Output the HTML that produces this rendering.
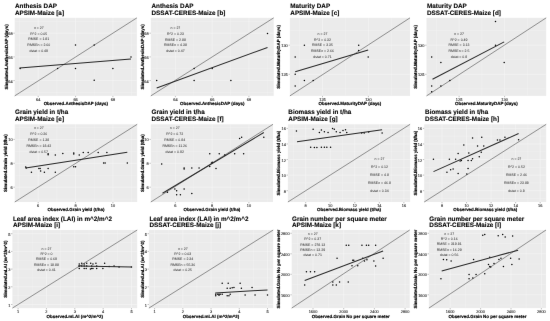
<!DOCTYPE html>
<html><head><meta charset="utf-8"><style>
html,body{margin:0;padding:0;background:#fff;}
svg{display:block;}
text{font-family:'Liberation Sans', Arial, sans-serif;text-rendering:geometricPrecision;}
.ti{font-size:6.35px;font-weight:bold;fill:#000;stroke:#000;stroke-width:0.1;}
.at{font-size:4.47px;font-weight:bold;fill:#000;stroke:#000;stroke-width:0.16;}
.tl{font-size:3.9px;fill:#333;stroke:#333;stroke-width:0.12;}
.st{font-size:3.5px;fill:#1a1a1a;}
.ma{stroke:#fff;stroke-width:0.32;}
.mi{stroke:#fff;stroke-width:0.18;}
.tk{stroke:#444;stroke-width:0.35;}
.dg{stroke:#505050;stroke-width:0.62;}
.rg{stroke:#262626;stroke-width:1.02;}
circle{fill:#000;}
</style></head><body>
<svg id="root" width="550" height="321" viewBox="0 0 550 321">
<defs><filter id="bl" x="0" y="0" width="550" height="321" filterUnits="userSpaceOnUse" color-interpolation-filters="sRGB"><feConvolveMatrix order="3" kernelMatrix="0.0019 0.0439 0.0019 0.0439 1 0.0439 0.0019 0.0439 0.0019" edgeMode="duplicate"/></filter></defs>
<rect width="550" height="321" fill="#fff"/>
<g filter="url(#bl)">
<rect width="550" height="321" fill="#fff"/>
<rect x="14.7" y="17.85" width="122.2" height="78.05" fill="#EBEBEB"/>
<line x1="19.53" y1="17.85" x2="19.53" y2="95.9" class="mi"/>
<line x1="56.88" y1="17.85" x2="56.88" y2="95.9" class="mi"/>
<line x1="94.23" y1="17.85" x2="94.23" y2="95.9" class="mi"/>
<line x1="131.57" y1="17.85" x2="131.57" y2="95.9" class="mi"/>
<line x1="14.7" y1="92.45" x2="136.9" y2="92.45" class="mi"/>
<line x1="14.7" y1="68.75" x2="136.9" y2="68.75" class="mi"/>
<line x1="14.7" y1="45.05" x2="136.9" y2="45.05" class="mi"/>
<line x1="14.7" y1="21.35" x2="136.9" y2="21.35" class="mi"/>
<line x1="38.2" y1="17.85" x2="38.2" y2="95.9" class="ma"/>
<line x1="38.2" y1="95.9" x2="38.2" y2="97.2" class="tk"/>
<text x="38.2" y="100.6" class="tl" text-anchor="middle">64</text>
<line x1="75.55" y1="17.85" x2="75.55" y2="95.9" class="ma"/>
<line x1="75.55" y1="95.9" x2="75.55" y2="97.2" class="tk"/>
<text x="75.55" y="100.6" class="tl" text-anchor="middle">66</text>
<line x1="112.9" y1="17.85" x2="112.9" y2="95.9" class="ma"/>
<line x1="112.9" y1="95.9" x2="112.9" y2="97.2" class="tk"/>
<text x="112.9" y="100.6" class="tl" text-anchor="middle">68</text>
<line x1="14.7" y1="80.6" x2="136.9" y2="80.6" class="ma"/>
<line x1="13.4" y1="80.6" x2="14.7" y2="80.6" class="tk"/>
<text x="12.6" y="82.6" class="tl" text-anchor="end">64</text>
<line x1="14.7" y1="56.9" x2="136.9" y2="56.9" class="ma"/>
<line x1="13.4" y1="56.9" x2="14.7" y2="56.9" class="tk"/>
<text x="12.6" y="58.9" class="tl" text-anchor="end">66</text>
<line x1="14.7" y1="33.2" x2="136.9" y2="33.2" class="ma"/>
<line x1="13.4" y1="33.2" x2="14.7" y2="33.2" class="tk"/>
<text x="12.6" y="35.2" class="tl" text-anchor="end">68</text>
<line x1="14.7" y1="95.9" x2="136.9" y2="17.85" class="dg"/>
<circle cx="20.2" cy="68.6" r="0.75"/>
<circle cx="57.6" cy="68.6" r="0.75"/>
<circle cx="75.5" cy="44.9" r="0.75"/>
<circle cx="75.5" cy="68.6" r="0.75"/>
<circle cx="94.2" cy="44.9" r="0.75"/>
<circle cx="94.2" cy="80.3" r="0.75"/>
<circle cx="112.9" cy="68.6" r="0.75"/>
<circle cx="131" cy="56.9" r="0.75"/>
<line x1="19.5" y1="68.1" x2="131" y2="58.9" class="rg"/>
<text x="38.8" y="28.75" class="st" text-anchor="middle">n = 27</text>
<text x="38.8" y="34.62" class="st" text-anchor="middle">R^2 = 0.05</text>
<text x="38.8" y="40.49" class="st" text-anchor="middle">RMSE = 1.81</text>
<text x="38.8" y="46.36" class="st" text-anchor="middle">RMSEn = 2.60</text>
<text x="38.8" y="52.23" class="st" text-anchor="middle">dstat = 0.49</text>
<text x="15" y="8.15" class="ti">Anthesis DAP</text>
<text x="15" y="14.9" class="ti">APSIM-Maize [a]</text>
<text x="75.8" y="105.2" class="at" text-anchor="middle">Observed.AnthesisDAP (days)</text>
<text transform="translate(7.5,56.88) rotate(-90)" class="at" text-anchor="middle">Simulated.AnthesisDAP (days)</text>
<rect x="150.8" y="17.85" width="122.9" height="78.05" fill="#EBEBEB"/>
<line x1="157.03" y1="17.85" x2="157.03" y2="95.9" class="mi"/>
<line x1="193.78" y1="17.85" x2="193.78" y2="95.9" class="mi"/>
<line x1="230.53" y1="17.85" x2="230.53" y2="95.9" class="mi"/>
<line x1="267.27" y1="17.85" x2="267.27" y2="95.9" class="mi"/>
<line x1="150.8" y1="92.45" x2="273.7" y2="92.45" class="mi"/>
<line x1="150.8" y1="68.75" x2="273.7" y2="68.75" class="mi"/>
<line x1="150.8" y1="45.05" x2="273.7" y2="45.05" class="mi"/>
<line x1="150.8" y1="21.35" x2="273.7" y2="21.35" class="mi"/>
<line x1="175.4" y1="17.85" x2="175.4" y2="95.9" class="ma"/>
<line x1="175.4" y1="95.9" x2="175.4" y2="97.2" class="tk"/>
<text x="175.4" y="100.6" class="tl" text-anchor="middle">64</text>
<line x1="212.15" y1="17.85" x2="212.15" y2="95.9" class="ma"/>
<line x1="212.15" y1="95.9" x2="212.15" y2="97.2" class="tk"/>
<text x="212.15" y="100.6" class="tl" text-anchor="middle">66</text>
<line x1="248.9" y1="17.85" x2="248.9" y2="95.9" class="ma"/>
<line x1="248.9" y1="95.9" x2="248.9" y2="97.2" class="tk"/>
<text x="248.9" y="100.6" class="tl" text-anchor="middle">68</text>
<line x1="150.8" y1="80.6" x2="273.7" y2="80.6" class="ma"/>
<line x1="149.5" y1="80.6" x2="150.8" y2="80.6" class="tk"/>
<text x="148.7" y="82.6" class="tl" text-anchor="end">64</text>
<line x1="150.8" y1="56.9" x2="273.7" y2="56.9" class="ma"/>
<line x1="149.5" y1="56.9" x2="150.8" y2="56.9" class="tk"/>
<text x="148.7" y="58.9" class="tl" text-anchor="end">66</text>
<line x1="150.8" y1="33.2" x2="273.7" y2="33.2" class="ma"/>
<line x1="149.5" y1="33.2" x2="150.8" y2="33.2" class="tk"/>
<text x="148.7" y="35.2" class="tl" text-anchor="end">68</text>
<line x1="150.8" y1="95.9" x2="273.7" y2="17.85" class="dg"/>
<circle cx="156.7" cy="80.6" r="0.75"/>
<circle cx="194.1" cy="68.6" r="0.75"/>
<circle cx="194.1" cy="80.6" r="0.75"/>
<circle cx="212.2" cy="68.6" r="0.75"/>
<circle cx="230.9" cy="80.6" r="0.75"/>
<circle cx="267.5" cy="33.4" r="0.75"/>
<line x1="156.7" y1="88" x2="267.5" y2="47.4" class="rg"/>
<text x="175.4" y="28.65" class="st" text-anchor="middle">n = 27</text>
<text x="175.4" y="34.58" class="st" text-anchor="middle">R^2 = 0.23</text>
<text x="175.4" y="40.51" class="st" text-anchor="middle">RMSE = 2.88</text>
<text x="175.4" y="46.44" class="st" text-anchor="middle">RMSEn = 4.38</text>
<text x="175.4" y="52.37" class="st" text-anchor="middle">dstat = 0.47</text>
<text x="151.5" y="8.15" class="ti">Anthesis DAP</text>
<text x="151.5" y="14.9" class="ti">DSSAT-CERES-Maize [b]</text>
<text x="212.25" y="105.2" class="at" text-anchor="middle">Observed.AnthesisDAP (days)</text>
<text transform="translate(143.7,56.88) rotate(-90)" class="at" text-anchor="middle">Simulated.AnthesisDAP (days)</text>
<rect x="289.9" y="17.85" width="120.1" height="78.05" fill="#EBEBEB"/>
<line x1="299.55" y1="17.85" x2="299.55" y2="95.9" class="mi"/>
<line x1="345.45" y1="17.85" x2="345.45" y2="95.9" class="mi"/>
<line x1="391.35" y1="17.85" x2="391.35" y2="95.9" class="mi"/>
<line x1="289.9" y1="88.85" x2="410" y2="88.85" class="mi"/>
<line x1="289.9" y1="59.75" x2="410" y2="59.75" class="mi"/>
<line x1="289.9" y1="30.65" x2="410" y2="30.65" class="mi"/>
<line x1="322.5" y1="17.85" x2="322.5" y2="95.9" class="ma"/>
<line x1="322.5" y1="95.9" x2="322.5" y2="97.2" class="tk"/>
<text x="322.5" y="100.6" class="tl" text-anchor="middle">125</text>
<line x1="368.4" y1="17.85" x2="368.4" y2="95.9" class="ma"/>
<line x1="368.4" y1="95.9" x2="368.4" y2="97.2" class="tk"/>
<text x="368.4" y="100.6" class="tl" text-anchor="middle">130</text>
<line x1="289.9" y1="74.3" x2="410" y2="74.3" class="ma"/>
<line x1="288.6" y1="74.3" x2="289.9" y2="74.3" class="tk"/>
<text x="287.8" y="76.3" class="tl" text-anchor="end">125</text>
<line x1="289.9" y1="45.2" x2="410" y2="45.2" class="ma"/>
<line x1="288.6" y1="45.2" x2="289.9" y2="45.2" class="tk"/>
<text x="287.8" y="47.2" class="tl" text-anchor="end">130</text>
<line x1="289.9" y1="95.9" x2="410" y2="17.85" class="dg"/>
<circle cx="295.2" cy="56.9" r="0.75"/>
<circle cx="304.4" cy="45.2" r="0.75"/>
<circle cx="295.2" cy="74.3" r="0.75"/>
<circle cx="304.4" cy="80.6" r="0.75"/>
<circle cx="313.2" cy="80.6" r="0.75"/>
<circle cx="295.2" cy="86" r="0.75"/>
<circle cx="358.7" cy="45.2" r="0.75"/>
<circle cx="358.7" cy="50.6" r="0.75"/>
<circle cx="368.2" cy="56.9" r="0.75"/>
<line x1="295.2" y1="71.8" x2="368.2" y2="50.1" class="rg"/>
<text x="322.5" y="34.75" class="st" text-anchor="middle">n = 27</text>
<text x="322.5" y="40.57" class="st" text-anchor="middle">R^2 = 0.32</text>
<text x="322.5" y="46.39" class="st" text-anchor="middle">RMSE = 3.35</text>
<text x="322.5" y="52.21" class="st" text-anchor="middle">RMSEn = 2.66</text>
<text x="322.5" y="58.03" class="st" text-anchor="middle">dstat = 0.71</text>
<text x="290.3" y="8.15" class="ti">Maturity DAP</text>
<text x="290.3" y="14.9" class="ti">APSIM-Maize [c]</text>
<text x="349.95" y="105.2" class="at" text-anchor="middle">Observed.MaturityDAP (days)</text>
<text transform="translate(280.3,56.88) rotate(-90)" class="at" text-anchor="middle">Simulated.MaturityDAP (days)</text>
<rect x="426.5" y="17.85" width="119.7" height="78.05" fill="#EBEBEB"/>
<line x1="436.35" y1="17.85" x2="436.35" y2="95.9" class="mi"/>
<line x1="481.85" y1="17.85" x2="481.85" y2="95.9" class="mi"/>
<line x1="527.35" y1="17.85" x2="527.35" y2="95.9" class="mi"/>
<line x1="426.5" y1="88.85" x2="546.2" y2="88.85" class="mi"/>
<line x1="426.5" y1="59.75" x2="546.2" y2="59.75" class="mi"/>
<line x1="426.5" y1="30.65" x2="546.2" y2="30.65" class="mi"/>
<line x1="459.1" y1="17.85" x2="459.1" y2="95.9" class="ma"/>
<line x1="459.1" y1="95.9" x2="459.1" y2="97.2" class="tk"/>
<text x="459.1" y="100.6" class="tl" text-anchor="middle">125</text>
<line x1="504.6" y1="17.85" x2="504.6" y2="95.9" class="ma"/>
<line x1="504.6" y1="95.9" x2="504.6" y2="97.2" class="tk"/>
<text x="504.6" y="100.6" class="tl" text-anchor="middle">130</text>
<line x1="426.5" y1="74.3" x2="546.2" y2="74.3" class="ma"/>
<line x1="425.2" y1="74.3" x2="426.5" y2="74.3" class="tk"/>
<text x="424.4" y="76.3" class="tl" text-anchor="end">125</text>
<line x1="426.5" y1="45.2" x2="546.2" y2="45.2" class="ma"/>
<line x1="425.2" y1="45.2" x2="426.5" y2="45.2" class="tk"/>
<text x="424.4" y="47.2" class="tl" text-anchor="end">130</text>
<line x1="426.5" y1="95.9" x2="546.2" y2="17.85" class="dg"/>
<circle cx="495.5" cy="21.5" r="0.75"/>
<circle cx="495.5" cy="45.2" r="0.75"/>
<circle cx="431.7" cy="56.9" r="0.75"/>
<circle cx="440.9" cy="62.6" r="0.75"/>
<circle cx="504.2" cy="62.6" r="0.75"/>
<circle cx="431.7" cy="86" r="0.75"/>
<circle cx="440.9" cy="86" r="0.75"/>
<circle cx="449.9" cy="80.6" r="0.75"/>
<circle cx="431.7" cy="91.8" r="0.75"/>
<line x1="432.5" y1="79.3" x2="504.2" y2="41.9" class="rg"/>
<text x="459" y="34.75" class="st" text-anchor="middle">n = 27</text>
<text x="459" y="40.57" class="st" text-anchor="middle">R^2 = 0.49</text>
<text x="459" y="46.39" class="st" text-anchor="middle">RMSE = 3.13</text>
<text x="459" y="52.21" class="st" text-anchor="middle">RMSEn = 2.5</text>
<text x="459" y="58.03" class="st" text-anchor="middle">dstat = 0.8</text>
<text x="427" y="8.15" class="ti">Maturity DAP</text>
<text x="427" y="14.9" class="ti">DSSAT-CERES-Maize [d]</text>
<text x="486.35" y="105.2" class="at" text-anchor="middle">Observed.MaturityDAP (days)</text>
<text transform="translate(417.4,56.88) rotate(-90)" class="at" text-anchor="middle">Simulated.MaturityDAP (days)</text>
<rect x="14.75" y="124.3" width="122.45" height="77.7" fill="#EBEBEB"/>
<line x1="19.53" y1="124.3" x2="19.53" y2="202" class="mi"/>
<line x1="56.88" y1="124.3" x2="56.88" y2="202" class="mi"/>
<line x1="94.23" y1="124.3" x2="94.23" y2="202" class="mi"/>
<line x1="131.57" y1="124.3" x2="131.57" y2="202" class="mi"/>
<line x1="14.75" y1="199.15" x2="137.2" y2="199.15" class="mi"/>
<line x1="14.75" y1="175.25" x2="137.2" y2="175.25" class="mi"/>
<line x1="14.75" y1="151.35" x2="137.2" y2="151.35" class="mi"/>
<line x1="14.75" y1="127.45" x2="137.2" y2="127.45" class="mi"/>
<line x1="38.2" y1="124.3" x2="38.2" y2="202" class="ma"/>
<line x1="38.2" y1="202" x2="38.2" y2="203.3" class="tk"/>
<text x="38.2" y="206.7" class="tl" text-anchor="middle">6</text>
<line x1="75.55" y1="124.3" x2="75.55" y2="202" class="ma"/>
<line x1="75.55" y1="202" x2="75.55" y2="203.3" class="tk"/>
<text x="75.55" y="206.7" class="tl" text-anchor="middle">8</text>
<line x1="112.9" y1="124.3" x2="112.9" y2="202" class="ma"/>
<line x1="112.9" y1="202" x2="112.9" y2="203.3" class="tk"/>
<text x="112.9" y="206.7" class="tl" text-anchor="middle">10</text>
<line x1="14.75" y1="187.2" x2="137.2" y2="187.2" class="ma"/>
<line x1="13.45" y1="187.2" x2="14.75" y2="187.2" class="tk"/>
<text x="12.65" y="189.2" class="tl" text-anchor="end">6</text>
<line x1="14.75" y1="163.3" x2="137.2" y2="163.3" class="ma"/>
<line x1="13.45" y1="163.3" x2="14.75" y2="163.3" class="tk"/>
<text x="12.65" y="165.3" class="tl" text-anchor="end">8</text>
<line x1="14.75" y1="139.4" x2="137.2" y2="139.4" class="ma"/>
<line x1="13.45" y1="139.4" x2="14.75" y2="139.4" class="tk"/>
<text x="12.65" y="141.4" class="tl" text-anchor="end">10</text>
<line x1="14.75" y1="202" x2="137.2" y2="124.3" class="dg"/>
<circle cx="25.7" cy="167.11" r="0.75"/>
<circle cx="26.2" cy="168.11" r="0.75"/>
<circle cx="31.43" cy="172.35" r="0.75"/>
<circle cx="38.9" cy="168.61" r="0.75"/>
<circle cx="40.15" cy="168.61" r="0.75"/>
<circle cx="40.64" cy="171.1" r="0.75"/>
<circle cx="44.38" cy="172.35" r="0.75"/>
<circle cx="48.11" cy="168.61" r="0.75"/>
<circle cx="48.11" cy="153.65" r="0.75"/>
<circle cx="48.11" cy="154.65" r="0.75"/>
<circle cx="55.33" cy="154.9" r="0.75"/>
<circle cx="55.33" cy="172.35" r="0.75"/>
<circle cx="62.8" cy="153.4" r="0.75"/>
<circle cx="73.76" cy="152.91" r="0.75"/>
<circle cx="73.76" cy="153.9" r="0.75"/>
<circle cx="73.76" cy="166.86" r="0.75"/>
<circle cx="75.5" cy="166.86" r="0.75"/>
<circle cx="79.24" cy="154.9" r="0.75"/>
<circle cx="83.22" cy="152.41" r="0.75"/>
<circle cx="88.2" cy="152.41" r="0.75"/>
<circle cx="98.16" cy="152.41" r="0.75"/>
<circle cx="103.64" cy="162.88" r="0.75"/>
<circle cx="105.14" cy="162.88" r="0.75"/>
<circle cx="106.88" cy="152.41" r="0.75"/>
<circle cx="127.3" cy="162.88" r="0.75"/>
<line x1="25.7" y1="167.9" x2="127.3" y2="152.2" class="rg"/>
<text x="38.8" y="128.75" class="st" text-anchor="middle">n = 27</text>
<text x="38.8" y="134.72" class="st" text-anchor="middle">R^2 = 0.26</text>
<text x="38.8" y="140.69" class="st" text-anchor="middle">RMSE = 1.38</text>
<text x="38.8" y="146.66" class="st" text-anchor="middle">RMSEn = 18.42</text>
<text x="38.8" y="152.63" class="st" text-anchor="middle">dstat = 0.57</text>
<text x="15" y="114.1" class="ti">Grain yield in t/ha</text>
<text x="15" y="120.9" class="ti">APSIM-Maize [e]</text>
<text x="75.97" y="211.4" class="at" text-anchor="middle">Observed.Grain yield (t/ha)</text>
<text transform="translate(7.1,163.15) rotate(-90)" class="at" text-anchor="middle">Simulated.Grain yield (t/ha)</text>
<rect x="150.8" y="124.3" width="122.2" height="77.7" fill="#EBEBEB"/>
<line x1="157.03" y1="124.3" x2="157.03" y2="202" class="mi"/>
<line x1="193.78" y1="124.3" x2="193.78" y2="202" class="mi"/>
<line x1="230.53" y1="124.3" x2="230.53" y2="202" class="mi"/>
<line x1="267.27" y1="124.3" x2="267.27" y2="202" class="mi"/>
<line x1="150.8" y1="199.15" x2="273" y2="199.15" class="mi"/>
<line x1="150.8" y1="175.25" x2="273" y2="175.25" class="mi"/>
<line x1="150.8" y1="151.35" x2="273" y2="151.35" class="mi"/>
<line x1="150.8" y1="127.45" x2="273" y2="127.45" class="mi"/>
<line x1="175.4" y1="124.3" x2="175.4" y2="202" class="ma"/>
<line x1="175.4" y1="202" x2="175.4" y2="203.3" class="tk"/>
<text x="175.4" y="206.7" class="tl" text-anchor="middle">6</text>
<line x1="212.15" y1="124.3" x2="212.15" y2="202" class="ma"/>
<line x1="212.15" y1="202" x2="212.15" y2="203.3" class="tk"/>
<text x="212.15" y="206.7" class="tl" text-anchor="middle">8</text>
<line x1="248.9" y1="124.3" x2="248.9" y2="202" class="ma"/>
<line x1="248.9" y1="202" x2="248.9" y2="203.3" class="tk"/>
<text x="248.9" y="206.7" class="tl" text-anchor="middle">10</text>
<line x1="150.8" y1="187.2" x2="273" y2="187.2" class="ma"/>
<line x1="149.5" y1="187.2" x2="150.8" y2="187.2" class="tk"/>
<text x="148.7" y="189.2" class="tl" text-anchor="end">6</text>
<line x1="150.8" y1="163.3" x2="273" y2="163.3" class="ma"/>
<line x1="149.5" y1="163.3" x2="150.8" y2="163.3" class="tk"/>
<text x="148.7" y="165.3" class="tl" text-anchor="end">8</text>
<line x1="150.8" y1="139.4" x2="273" y2="139.4" class="ma"/>
<line x1="149.5" y1="139.4" x2="150.8" y2="139.4" class="tk"/>
<text x="148.7" y="141.4" class="tl" text-anchor="end">10</text>
<line x1="150.8" y1="202" x2="273" y2="124.3" class="dg"/>
<circle cx="161.7" cy="164.12" r="0.75"/>
<circle cx="167.43" cy="192.28" r="0.75"/>
<circle cx="174.9" cy="189.04" r="0.75"/>
<circle cx="176.64" cy="190.79" r="0.75"/>
<circle cx="176.64" cy="194.78" r="0.75"/>
<circle cx="180.38" cy="194.78" r="0.75"/>
<circle cx="184.11" cy="189.04" r="0.75"/>
<circle cx="184.11" cy="168.11" r="0.75"/>
<circle cx="184.11" cy="169.11" r="0.75"/>
<circle cx="191.83" cy="168.11" r="0.75"/>
<circle cx="191.83" cy="193.53" r="0.75"/>
<circle cx="199.05" cy="168.11" r="0.75"/>
<circle cx="209.76" cy="153.65" r="0.75"/>
<circle cx="209.76" cy="166.61" r="0.75"/>
<circle cx="212.25" cy="162.13" r="0.75"/>
<circle cx="211.5" cy="162.88" r="0.75"/>
<circle cx="215.99" cy="168.61" r="0.75"/>
<circle cx="219.22" cy="153.65" r="0.75"/>
<circle cx="224.7" cy="154.9" r="0.75"/>
<circle cx="234.66" cy="153.65" r="0.75"/>
<circle cx="243.63" cy="153.65" r="0.75"/>
<circle cx="239.64" cy="138.45" r="0.75"/>
<circle cx="241.63" cy="137.21" r="0.75"/>
<circle cx="263.79" cy="137.21" r="0.75"/>
<line x1="162.5" y1="193.3" x2="263.8" y2="132.5" class="rg"/>
<text x="174.7" y="128.75" class="st" text-anchor="middle">n = 27</text>
<text x="174.7" y="134.72" class="st" text-anchor="middle">R^2 = 0.72</text>
<text x="174.7" y="140.69" class="st" text-anchor="middle">RMSE = 0.84</text>
<text x="174.7" y="146.66" class="st" text-anchor="middle">RMSEn = 11.26</text>
<text x="174.7" y="152.63" class="st" text-anchor="middle">dstat = 0.92</text>
<text x="151.5" y="114.1" class="ti">Grain yield in t/ha</text>
<text x="151.5" y="120.9" class="ti">DSSAT-CERES-Maize [f]</text>
<text x="211.9" y="211.4" class="at" text-anchor="middle">Observed.Grain yield (t/ha)</text>
<text transform="translate(144,163.15) rotate(-90)" class="at" text-anchor="middle">Simulated.Grain yield (t/ha)</text>
<rect x="287.9" y="124.3" width="122.2" height="77.7" fill="#EBEBEB"/>
<line x1="293.43" y1="124.3" x2="293.43" y2="202" class="mi"/>
<line x1="317.97" y1="124.3" x2="317.97" y2="202" class="mi"/>
<line x1="342.52" y1="124.3" x2="342.52" y2="202" class="mi"/>
<line x1="367.07" y1="124.3" x2="367.07" y2="202" class="mi"/>
<line x1="391.62" y1="124.3" x2="391.62" y2="202" class="mi"/>
<line x1="287.9" y1="198.49" x2="410.1" y2="198.49" class="mi"/>
<line x1="287.9" y1="182.91" x2="410.1" y2="182.91" class="mi"/>
<line x1="287.9" y1="167.34" x2="410.1" y2="167.34" class="mi"/>
<line x1="287.9" y1="151.76" x2="410.1" y2="151.76" class="mi"/>
<line x1="287.9" y1="136.19" x2="410.1" y2="136.19" class="mi"/>
<line x1="305.7" y1="124.3" x2="305.7" y2="202" class="ma"/>
<line x1="305.7" y1="202" x2="305.7" y2="203.3" class="tk"/>
<text x="305.7" y="206.7" class="tl" text-anchor="middle">8</text>
<line x1="330.25" y1="124.3" x2="330.25" y2="202" class="ma"/>
<line x1="330.25" y1="202" x2="330.25" y2="203.3" class="tk"/>
<text x="330.25" y="206.7" class="tl" text-anchor="middle">10</text>
<line x1="354.8" y1="124.3" x2="354.8" y2="202" class="ma"/>
<line x1="354.8" y1="202" x2="354.8" y2="203.3" class="tk"/>
<text x="354.8" y="206.7" class="tl" text-anchor="middle">12</text>
<line x1="379.35" y1="124.3" x2="379.35" y2="202" class="ma"/>
<line x1="379.35" y1="202" x2="379.35" y2="203.3" class="tk"/>
<text x="379.35" y="206.7" class="tl" text-anchor="middle">14</text>
<line x1="403.9" y1="124.3" x2="403.9" y2="202" class="ma"/>
<line x1="403.9" y1="202" x2="403.9" y2="203.3" class="tk"/>
<text x="403.9" y="206.7" class="tl" text-anchor="middle">16</text>
<line x1="287.9" y1="190.7" x2="410.1" y2="190.7" class="ma"/>
<line x1="286.6" y1="190.7" x2="287.9" y2="190.7" class="tk"/>
<text x="285.8" y="192.7" class="tl" text-anchor="end">8</text>
<line x1="287.9" y1="175.12" x2="410.1" y2="175.12" class="ma"/>
<line x1="286.6" y1="175.12" x2="287.9" y2="175.12" class="tk"/>
<text x="285.8" y="177.12" class="tl" text-anchor="end">10</text>
<line x1="287.9" y1="159.55" x2="410.1" y2="159.55" class="ma"/>
<line x1="286.6" y1="159.55" x2="287.9" y2="159.55" class="tk"/>
<text x="285.8" y="161.55" class="tl" text-anchor="end">12</text>
<line x1="287.9" y1="143.97" x2="410.1" y2="143.97" class="ma"/>
<line x1="286.6" y1="143.97" x2="287.9" y2="143.97" class="tk"/>
<text x="285.8" y="145.97" class="tl" text-anchor="end">14</text>
<line x1="287.9" y1="128.4" x2="410.1" y2="128.4" class="ma"/>
<line x1="286.6" y1="128.4" x2="287.9" y2="128.4" class="tk"/>
<text x="285.8" y="130.4" class="tl" text-anchor="end">16</text>
<line x1="287.9" y1="202" x2="410.1" y2="124.3" class="dg"/>
<circle cx="296.46" cy="130.98" r="0.75"/>
<circle cx="313.15" cy="129.23" r="0.75"/>
<circle cx="319.37" cy="132.47" r="0.75"/>
<circle cx="321.36" cy="129.98" r="0.75"/>
<circle cx="324.35" cy="131.72" r="0.75"/>
<circle cx="328.09" cy="132.47" r="0.75"/>
<circle cx="332.57" cy="128.48" r="0.75"/>
<circle cx="334.31" cy="129.23" r="0.75"/>
<circle cx="336.3" cy="131.72" r="0.75"/>
<circle cx="340.04" cy="132.47" r="0.75"/>
<circle cx="343.03" cy="130.48" r="0.75"/>
<circle cx="345.52" cy="129.73" r="0.75"/>
<circle cx="346.76" cy="132.47" r="0.75"/>
<circle cx="361.7" cy="132.97" r="0.75"/>
<circle cx="364.19" cy="132.97" r="0.75"/>
<circle cx="368.67" cy="131.97" r="0.75"/>
<circle cx="382.12" cy="132.97" r="0.75"/>
<circle cx="310.66" cy="147.17" r="0.75"/>
<circle cx="314.39" cy="147.42" r="0.75"/>
<circle cx="316.88" cy="147.42" r="0.75"/>
<circle cx="321.36" cy="147.17" r="0.75"/>
<circle cx="324.35" cy="147.17" r="0.75"/>
<circle cx="326.84" cy="147.17" r="0.75"/>
<circle cx="330.58" cy="147.17" r="0.75"/>
<line x1="297" y1="141.7" x2="382.1" y2="129.7" class="rg"/>
<text x="379.5" y="160.15" class="st" text-anchor="middle">n = 27</text>
<text x="379.5" y="168.02" class="st" text-anchor="middle">R^2 = 0.12</text>
<text x="379.5" y="175.89" class="st" text-anchor="middle">RMSE = 4.8</text>
<text x="379.5" y="183.76" class="st" text-anchor="middle">RMSEn = 46.8</text>
<text x="379.5" y="191.63" class="st" text-anchor="middle">dstat = 0.34</text>
<text x="288.3" y="114.1" class="ti">Biomass yield in t/ha</text>
<text x="288.3" y="120.9" class="ti">APSIM-Maize [g]</text>
<text x="349" y="211.4" class="at" text-anchor="middle">Observed.Biomass yield (t/ha)</text>
<text transform="translate(280.2,163.15) rotate(-90)" class="at" text-anchor="middle">Simulated.Biomass yield (t/ha)</text>
<rect x="424.2" y="124.3" width="122" height="77.7" fill="#EBEBEB"/>
<line x1="429.73" y1="124.3" x2="429.73" y2="202" class="mi"/>
<line x1="454.27" y1="124.3" x2="454.27" y2="202" class="mi"/>
<line x1="478.83" y1="124.3" x2="478.83" y2="202" class="mi"/>
<line x1="503.38" y1="124.3" x2="503.38" y2="202" class="mi"/>
<line x1="527.93" y1="124.3" x2="527.93" y2="202" class="mi"/>
<line x1="424.2" y1="198.49" x2="546.2" y2="198.49" class="mi"/>
<line x1="424.2" y1="182.91" x2="546.2" y2="182.91" class="mi"/>
<line x1="424.2" y1="167.34" x2="546.2" y2="167.34" class="mi"/>
<line x1="424.2" y1="151.76" x2="546.2" y2="151.76" class="mi"/>
<line x1="424.2" y1="136.19" x2="546.2" y2="136.19" class="mi"/>
<line x1="442" y1="124.3" x2="442" y2="202" class="ma"/>
<line x1="442" y1="202" x2="442" y2="203.3" class="tk"/>
<text x="442" y="206.7" class="tl" text-anchor="middle">8</text>
<line x1="466.55" y1="124.3" x2="466.55" y2="202" class="ma"/>
<line x1="466.55" y1="202" x2="466.55" y2="203.3" class="tk"/>
<text x="466.55" y="206.7" class="tl" text-anchor="middle">10</text>
<line x1="491.1" y1="124.3" x2="491.1" y2="202" class="ma"/>
<line x1="491.1" y1="202" x2="491.1" y2="203.3" class="tk"/>
<text x="491.1" y="206.7" class="tl" text-anchor="middle">12</text>
<line x1="515.65" y1="124.3" x2="515.65" y2="202" class="ma"/>
<line x1="515.65" y1="202" x2="515.65" y2="203.3" class="tk"/>
<text x="515.65" y="206.7" class="tl" text-anchor="middle">14</text>
<line x1="540.2" y1="124.3" x2="540.2" y2="202" class="ma"/>
<line x1="540.2" y1="202" x2="540.2" y2="203.3" class="tk"/>
<text x="540.2" y="206.7" class="tl" text-anchor="middle">16</text>
<line x1="424.2" y1="190.7" x2="546.2" y2="190.7" class="ma"/>
<line x1="422.9" y1="190.7" x2="424.2" y2="190.7" class="tk"/>
<text x="422.1" y="192.7" class="tl" text-anchor="end">8</text>
<line x1="424.2" y1="175.12" x2="546.2" y2="175.12" class="ma"/>
<line x1="422.9" y1="175.12" x2="424.2" y2="175.12" class="tk"/>
<text x="422.1" y="177.12" class="tl" text-anchor="end">10</text>
<line x1="424.2" y1="159.55" x2="546.2" y2="159.55" class="ma"/>
<line x1="422.9" y1="159.55" x2="424.2" y2="159.55" class="tk"/>
<text x="422.1" y="161.55" class="tl" text-anchor="end">12</text>
<line x1="424.2" y1="143.97" x2="546.2" y2="143.97" class="ma"/>
<line x1="422.9" y1="143.97" x2="424.2" y2="143.97" class="tk"/>
<text x="422.1" y="145.97" class="tl" text-anchor="end">14</text>
<line x1="424.2" y1="128.4" x2="546.2" y2="128.4" class="ma"/>
<line x1="422.9" y1="128.4" x2="424.2" y2="128.4" class="tk"/>
<text x="422.1" y="130.4" class="tl" text-anchor="end">16</text>
<line x1="424.2" y1="202" x2="546.2" y2="124.3" class="dg"/>
<circle cx="433.46" cy="159.14" r="0.75"/>
<circle cx="446.91" cy="172.35" r="0.75"/>
<circle cx="449.4" cy="159.14" r="0.75"/>
<circle cx="450.64" cy="169.85" r="0.75"/>
<circle cx="453.13" cy="169.11" r="0.75"/>
<circle cx="455.62" cy="159.14" r="0.75"/>
<circle cx="458.11" cy="153.4" r="0.75"/>
<circle cx="458.11" cy="173.59" r="0.75"/>
<circle cx="460.11" cy="160.88" r="0.75"/>
<circle cx="461.35" cy="160.38" r="0.75"/>
<circle cx="463.84" cy="144.93" r="0.75"/>
<circle cx="466.83" cy="174.09" r="0.75"/>
<circle cx="468.07" cy="168.61" r="0.75"/>
<circle cx="468.07" cy="160.38" r="0.75"/>
<circle cx="468.82" cy="152.91" r="0.75"/>
<circle cx="471.31" cy="160.38" r="0.75"/>
<circle cx="472.56" cy="158.64" r="0.75"/>
<circle cx="472.56" cy="137.95" r="0.75"/>
<circle cx="477.54" cy="145.93" r="0.75"/>
<circle cx="479.28" cy="156.64" r="0.75"/>
<circle cx="481.27" cy="152.16" r="0.75"/>
<circle cx="481.77" cy="137.21" r="0.75"/>
<circle cx="483.76" cy="145.93" r="0.75"/>
<circle cx="497.46" cy="139.95" r="0.75"/>
<circle cx="499.95" cy="139.95" r="0.75"/>
<circle cx="504.93" cy="137.21" r="0.75"/>
<circle cx="518.62" cy="139.7" r="0.75"/>
<line x1="433.5" y1="171.6" x2="518.6" y2="133.5" class="rg"/>
<text x="516.4" y="160.15" class="st" text-anchor="middle">n = 27</text>
<text x="516.4" y="168.02" class="st" text-anchor="middle">R^2 = 0.52</text>
<text x="516.4" y="175.89" class="st" text-anchor="middle">RMSE = 2.46</text>
<text x="516.4" y="183.76" class="st" text-anchor="middle">RMSEn = 23.88</text>
<text x="516.4" y="191.63" class="st" text-anchor="middle">dstat = 0.8</text>
<text x="425.1" y="114.1" class="ti">Biomass yield in t/ha</text>
<text x="425.1" y="120.9" class="ti">DSSAT-CERES-Maize [h]</text>
<text x="485.2" y="211.4" class="at" text-anchor="middle">Observed.Biomass yield (t/ha)</text>
<text transform="translate(417.1,163.15) rotate(-90)" class="at" text-anchor="middle">Simulated.Biomass yield (t/ha)</text>
<rect x="12.4" y="230" width="124.8" height="78.1" fill="#EBEBEB"/>
<line x1="32.28" y1="230" x2="32.28" y2="308.1" class="mi"/>
<line x1="60.63" y1="230" x2="60.63" y2="308.1" class="mi"/>
<line x1="88.97" y1="230" x2="88.97" y2="308.1" class="mi"/>
<line x1="117.33" y1="230" x2="117.33" y2="308.1" class="mi"/>
<line x1="12.4" y1="295.65" x2="137.2" y2="295.65" class="mi"/>
<line x1="12.4" y1="277.95" x2="137.2" y2="277.95" class="mi"/>
<line x1="12.4" y1="260.25" x2="137.2" y2="260.25" class="mi"/>
<line x1="12.4" y1="242.55" x2="137.2" y2="242.55" class="mi"/>
<line x1="18.1" y1="230" x2="18.1" y2="308.1" class="ma"/>
<line x1="18.1" y1="308.1" x2="18.1" y2="309.4" class="tk"/>
<text x="18.1" y="312.8" class="tl" text-anchor="middle">1</text>
<line x1="46.45" y1="230" x2="46.45" y2="308.1" class="ma"/>
<line x1="46.45" y1="308.1" x2="46.45" y2="309.4" class="tk"/>
<text x="46.45" y="312.8" class="tl" text-anchor="middle">2</text>
<line x1="74.8" y1="230" x2="74.8" y2="308.1" class="ma"/>
<line x1="74.8" y1="308.1" x2="74.8" y2="309.4" class="tk"/>
<text x="74.8" y="312.8" class="tl" text-anchor="middle">3</text>
<line x1="103.15" y1="230" x2="103.15" y2="308.1" class="ma"/>
<line x1="103.15" y1="308.1" x2="103.15" y2="309.4" class="tk"/>
<text x="103.15" y="312.8" class="tl" text-anchor="middle">4</text>
<line x1="131.5" y1="230" x2="131.5" y2="308.1" class="ma"/>
<line x1="131.5" y1="308.1" x2="131.5" y2="309.4" class="tk"/>
<text x="131.5" y="312.8" class="tl" text-anchor="middle">5</text>
<line x1="12.4" y1="304.5" x2="137.2" y2="304.5" class="ma"/>
<line x1="11.1" y1="304.5" x2="12.4" y2="304.5" class="tk"/>
<text x="10.3" y="306.5" class="tl" text-anchor="end">1</text>
<line x1="12.4" y1="286.8" x2="137.2" y2="286.8" class="ma"/>
<line x1="11.1" y1="286.8" x2="12.4" y2="286.8" class="tk"/>
<text x="10.3" y="288.8" class="tl" text-anchor="end">2</text>
<line x1="12.4" y1="269.1" x2="137.2" y2="269.1" class="ma"/>
<line x1="11.1" y1="269.1" x2="12.4" y2="269.1" class="tk"/>
<text x="10.3" y="271.1" class="tl" text-anchor="end">3</text>
<line x1="12.4" y1="251.4" x2="137.2" y2="251.4" class="ma"/>
<line x1="11.1" y1="251.4" x2="12.4" y2="251.4" class="tk"/>
<text x="10.3" y="253.4" class="tl" text-anchor="end">4</text>
<line x1="12.4" y1="233.7" x2="137.2" y2="233.7" class="ma"/>
<line x1="11.1" y1="233.7" x2="12.4" y2="233.7" class="tk"/>
<text x="10.3" y="235.7" class="tl" text-anchor="end">5</text>
<line x1="12.4" y1="308.1" x2="137.2" y2="230" class="dg"/>
<circle cx="79.23" cy="263.89" r="0.75"/>
<circle cx="81.72" cy="263.14" r="0.75"/>
<circle cx="84.21" cy="263.89" r="0.75"/>
<circle cx="86.7" cy="263.14" r="0.75"/>
<circle cx="90.69" cy="263.14" r="0.75"/>
<circle cx="92.93" cy="263.89" r="0.75"/>
<circle cx="95.91" cy="263.14" r="0.75"/>
<circle cx="104.63" cy="263.14" r="0.75"/>
<circle cx="79.23" cy="265.88" r="0.75"/>
<circle cx="81.72" cy="265.88" r="0.75"/>
<circle cx="84.21" cy="265.88" r="0.75"/>
<circle cx="86.7" cy="265.88" r="0.75"/>
<circle cx="91.68" cy="265.88" r="0.75"/>
<circle cx="96.66" cy="265.88" r="0.75"/>
<circle cx="109.11" cy="266.38" r="0.75"/>
<circle cx="114.09" cy="265.88" r="0.75"/>
<circle cx="79.23" cy="268.38" r="0.75"/>
<circle cx="84.21" cy="268.38" r="0.75"/>
<circle cx="86.2" cy="268.38" r="0.75"/>
<circle cx="90.44" cy="268.88" r="0.75"/>
<circle cx="91.68" cy="268.38" r="0.75"/>
<circle cx="92.93" cy="268.38" r="0.75"/>
<circle cx="96.66" cy="268.38" r="0.75"/>
<circle cx="102.89" cy="268.38" r="0.75"/>
<circle cx="119.07" cy="266.88" r="0.75"/>
<circle cx="131.52" cy="266.88" r="0.75"/>
<line x1="78" y1="265.9" x2="131.5" y2="266.9" class="rg"/>
<text x="46.5" y="249.85" class="st" text-anchor="middle">n = 27</text>
<text x="46.5" y="255.15" class="st" text-anchor="middle">R^2 = 0</text>
<text x="46.5" y="260.45" class="st" text-anchor="middle">RMSE = 0.69</text>
<text x="46.5" y="265.75" class="st" text-anchor="middle">RMSEn = 18.88</text>
<text x="46.5" y="271.05" class="st" text-anchor="middle">dstat = 0.41</text>
<text x="12.9" y="220.5" class="ti">Leaf area index (LAI) in m^2/m^2</text>
<text x="12.9" y="227.3" class="ti">APSIM-Maize [i]</text>
<text x="74.8" y="317.9" class="at" text-anchor="middle">Observed.mLAI (m^2/m^2)</text>
<text transform="translate(7.1,269.05) rotate(-90)" class="at" text-anchor="middle">Simulated.mLAI (m^2/m^2)</text>
<rect x="148.9" y="230" width="124.3" height="78.1" fill="#EBEBEB"/>
<line x1="168.71" y1="230" x2="168.71" y2="308.1" class="mi"/>
<line x1="196.94" y1="230" x2="196.94" y2="308.1" class="mi"/>
<line x1="225.16" y1="230" x2="225.16" y2="308.1" class="mi"/>
<line x1="253.39" y1="230" x2="253.39" y2="308.1" class="mi"/>
<line x1="148.9" y1="295.65" x2="273.2" y2="295.65" class="mi"/>
<line x1="148.9" y1="277.95" x2="273.2" y2="277.95" class="mi"/>
<line x1="148.9" y1="260.25" x2="273.2" y2="260.25" class="mi"/>
<line x1="148.9" y1="242.55" x2="273.2" y2="242.55" class="mi"/>
<line x1="154.6" y1="230" x2="154.6" y2="308.1" class="ma"/>
<line x1="154.6" y1="308.1" x2="154.6" y2="309.4" class="tk"/>
<text x="154.6" y="312.8" class="tl" text-anchor="middle">1</text>
<line x1="182.82" y1="230" x2="182.82" y2="308.1" class="ma"/>
<line x1="182.82" y1="308.1" x2="182.82" y2="309.4" class="tk"/>
<text x="182.82" y="312.8" class="tl" text-anchor="middle">2</text>
<line x1="211.05" y1="230" x2="211.05" y2="308.1" class="ma"/>
<line x1="211.05" y1="308.1" x2="211.05" y2="309.4" class="tk"/>
<text x="211.05" y="312.8" class="tl" text-anchor="middle">3</text>
<line x1="239.28" y1="230" x2="239.28" y2="308.1" class="ma"/>
<line x1="239.28" y1="308.1" x2="239.28" y2="309.4" class="tk"/>
<text x="239.28" y="312.8" class="tl" text-anchor="middle">4</text>
<line x1="267.5" y1="230" x2="267.5" y2="308.1" class="ma"/>
<line x1="267.5" y1="308.1" x2="267.5" y2="309.4" class="tk"/>
<text x="267.5" y="312.8" class="tl" text-anchor="middle">5</text>
<line x1="148.9" y1="304.5" x2="273.2" y2="304.5" class="ma"/>
<line x1="147.6" y1="304.5" x2="148.9" y2="304.5" class="tk"/>
<text x="146.8" y="306.5" class="tl" text-anchor="end">1</text>
<line x1="148.9" y1="286.8" x2="273.2" y2="286.8" class="ma"/>
<line x1="147.6" y1="286.8" x2="148.9" y2="286.8" class="tk"/>
<text x="146.8" y="288.8" class="tl" text-anchor="end">2</text>
<line x1="148.9" y1="269.1" x2="273.2" y2="269.1" class="ma"/>
<line x1="147.6" y1="269.1" x2="148.9" y2="269.1" class="tk"/>
<text x="146.8" y="271.1" class="tl" text-anchor="end">3</text>
<line x1="148.9" y1="251.4" x2="273.2" y2="251.4" class="ma"/>
<line x1="147.6" y1="251.4" x2="148.9" y2="251.4" class="tk"/>
<text x="146.8" y="253.4" class="tl" text-anchor="end">4</text>
<line x1="148.9" y1="233.7" x2="273.2" y2="233.7" class="ma"/>
<line x1="147.6" y1="233.7" x2="148.9" y2="233.7" class="tk"/>
<text x="146.8" y="235.7" class="tl" text-anchor="end">5</text>
<line x1="148.9" y1="308.1" x2="273.2" y2="230" class="dg"/>
<circle cx="222.2" cy="283.33" r="0.75"/>
<circle cx="228.18" cy="283.33" r="0.75"/>
<circle cx="240.13" cy="283.33" r="0.75"/>
<circle cx="227.18" cy="288.31" r="0.75"/>
<circle cx="230.17" cy="288.31" r="0.75"/>
<circle cx="232.16" cy="287.82" r="0.75"/>
<circle cx="233.91" cy="287.57" r="0.75"/>
<circle cx="241.38" cy="288.31" r="0.75"/>
<circle cx="252.08" cy="287.57" r="0.75"/>
<circle cx="215.73" cy="294.3" r="0.75"/>
<circle cx="217.72" cy="294.3" r="0.75"/>
<circle cx="218.97" cy="294.3" r="0.75"/>
<circle cx="220.21" cy="294.3" r="0.75"/>
<circle cx="222.2" cy="294.3" r="0.75"/>
<circle cx="227.18" cy="295.79" r="0.75"/>
<circle cx="228.93" cy="295.79" r="0.75"/>
<circle cx="230.17" cy="294.3" r="0.75"/>
<circle cx="245.11" cy="295.04" r="0.75"/>
<circle cx="255.07" cy="295.04" r="0.75"/>
<circle cx="267.52" cy="295.04" r="0.75"/>
<circle cx="215.73" cy="295.79" r="0.75"/>
<circle cx="218.97" cy="295.29" r="0.75"/>
<line x1="215.2" y1="293" x2="267.5" y2="290" class="rg"/>
<text x="182.8" y="249.85" class="st" text-anchor="middle">n = 27</text>
<text x="182.8" y="255.15" class="st" text-anchor="middle">R^2 = 0.03</text>
<text x="182.8" y="260.45" class="st" text-anchor="middle">RMSE = 2.34</text>
<text x="182.8" y="265.75" class="st" text-anchor="middle">RMSEn = 55.36</text>
<text x="182.8" y="271.05" class="st" text-anchor="middle">dstat = 0.25</text>
<text x="149.4" y="220.5" class="ti">Leaf area index (LAI) in m^2/m^2</text>
<text x="149.4" y="227.3" class="ti">DSSAT-CERES-Maize [j]</text>
<text x="211.05" y="317.9" class="at" text-anchor="middle">Observed.mLAI (m^2/m^2)</text>
<text transform="translate(143.7,269.05) rotate(-90)" class="at" text-anchor="middle">Simulated.mLAI (m^2/m^2)</text>
<rect x="291.7" y="230" width="118" height="78.1" fill="#EBEBEB"/>
<line x1="297.65" y1="230" x2="297.65" y2="308.1" class="mi"/>
<line x1="328.35" y1="230" x2="328.35" y2="308.1" class="mi"/>
<line x1="359.05" y1="230" x2="359.05" y2="308.1" class="mi"/>
<line x1="389.75" y1="230" x2="389.75" y2="308.1" class="mi"/>
<line x1="291.7" y1="305.05" x2="409.7" y2="305.05" class="mi"/>
<line x1="291.7" y1="284.55" x2="409.7" y2="284.55" class="mi"/>
<line x1="291.7" y1="264.05" x2="409.7" y2="264.05" class="mi"/>
<line x1="291.7" y1="243.55" x2="409.7" y2="243.55" class="mi"/>
<line x1="313" y1="230" x2="313" y2="308.1" class="ma"/>
<line x1="313" y1="308.1" x2="313" y2="309.4" class="tk"/>
<text x="313" y="312.8" class="tl" text-anchor="middle">1600</text>
<line x1="343.7" y1="230" x2="343.7" y2="308.1" class="ma"/>
<line x1="343.7" y1="308.1" x2="343.7" y2="309.4" class="tk"/>
<text x="343.7" y="312.8" class="tl" text-anchor="middle">2000</text>
<line x1="374.4" y1="230" x2="374.4" y2="308.1" class="ma"/>
<line x1="374.4" y1="308.1" x2="374.4" y2="309.4" class="tk"/>
<text x="374.4" y="312.8" class="tl" text-anchor="middle">2400</text>
<line x1="405.1" y1="230" x2="405.1" y2="308.1" class="ma"/>
<line x1="405.1" y1="308.1" x2="405.1" y2="309.4" class="tk"/>
<text x="405.1" y="312.8" class="tl" text-anchor="middle">2800</text>
<line x1="291.7" y1="294.8" x2="409.7" y2="294.8" class="ma"/>
<line x1="290.4" y1="294.8" x2="291.7" y2="294.8" class="tk"/>
<text x="289.6" y="296.8" class="tl" text-anchor="end">1600</text>
<line x1="291.7" y1="274.3" x2="409.7" y2="274.3" class="ma"/>
<line x1="290.4" y1="274.3" x2="291.7" y2="274.3" class="tk"/>
<text x="289.6" y="276.3" class="tl" text-anchor="end">2000</text>
<line x1="291.7" y1="253.8" x2="409.7" y2="253.8" class="ma"/>
<line x1="290.4" y1="253.8" x2="291.7" y2="253.8" class="tk"/>
<text x="289.6" y="255.8" class="tl" text-anchor="end">2400</text>
<line x1="291.7" y1="233.3" x2="409.7" y2="233.3" class="ma"/>
<line x1="290.4" y1="233.3" x2="291.7" y2="233.3" class="tk"/>
<text x="289.6" y="235.3" class="tl" text-anchor="end">2800</text>
<line x1="291.7" y1="308.1" x2="409.7" y2="230" class="dg"/>
<circle cx="304.69" cy="285.07" r="0.75"/>
<circle cx="306.43" cy="271.87" r="0.75"/>
<circle cx="310.42" cy="271.87" r="0.75"/>
<circle cx="314.65" cy="271.87" r="0.75"/>
<circle cx="332.82" cy="282.08" r="0.75"/>
<circle cx="332.82" cy="285.07" r="0.75"/>
<circle cx="336.31" cy="285.07" r="0.75"/>
<circle cx="339.54" cy="282.08" r="0.75"/>
<circle cx="337.05" cy="258.16" r="0.75"/>
<circle cx="346.27" cy="245.2" r="0.75"/>
<circle cx="348.75" cy="245.2" r="0.75"/>
<circle cx="348.26" cy="282.08" r="0.75"/>
<circle cx="351.99" cy="265.64" r="0.75"/>
<circle cx="352.74" cy="260.15" r="0.75"/>
<circle cx="353.73" cy="260.15" r="0.75"/>
<circle cx="357.72" cy="265.64" r="0.75"/>
<circle cx="361.95" cy="245.2" r="0.75"/>
<circle cx="362.7" cy="258.16" r="0.75"/>
<circle cx="364.44" cy="260.9" r="0.75"/>
<circle cx="366.43" cy="245.2" r="0.75"/>
<circle cx="366.93" cy="259.65" r="0.75"/>
<circle cx="368.67" cy="245.2" r="0.75"/>
<circle cx="373.9" cy="260.9" r="0.75"/>
<circle cx="375.64" cy="245.2" r="0.75"/>
<circle cx="375.64" cy="265.88" r="0.75"/>
<circle cx="383.11" cy="258.16" r="0.75"/>
<line x1="304.7" y1="280.6" x2="383.1" y2="250.9" class="rg"/>
<text x="312.7" y="235.05" class="st" text-anchor="middle">n = 27</text>
<text x="312.7" y="240.28" class="st" text-anchor="middle">R^2 = 0.37</text>
<text x="312.7" y="245.51" class="st" text-anchor="middle">RMSE = 278.13</text>
<text x="312.7" y="250.74" class="st" text-anchor="middle">RMSEn = 13.29</text>
<text x="312.7" y="255.97" class="st" text-anchor="middle">dstat = 0.71</text>
<text x="292" y="220.5" class="ti">Grain number per square meter</text>
<text x="292" y="227.3" class="ti">APSIM-Maize [k]</text>
<text x="350.7" y="317.9" class="at" text-anchor="middle">Observed.Grain No per square meter</text>
<text transform="translate(280,269.05) rotate(-90)" class="at" text-anchor="middle">Simulated.Grain No per square meter</text>
<rect x="428.9" y="230" width="117.1" height="78.1" fill="#EBEBEB"/>
<line x1="435" y1="230" x2="435" y2="308.1" class="mi"/>
<line x1="465.4" y1="230" x2="465.4" y2="308.1" class="mi"/>
<line x1="495.8" y1="230" x2="495.8" y2="308.1" class="mi"/>
<line x1="526.2" y1="230" x2="526.2" y2="308.1" class="mi"/>
<line x1="428.9" y1="305.05" x2="546" y2="305.05" class="mi"/>
<line x1="428.9" y1="284.55" x2="546" y2="284.55" class="mi"/>
<line x1="428.9" y1="264.05" x2="546" y2="264.05" class="mi"/>
<line x1="428.9" y1="243.55" x2="546" y2="243.55" class="mi"/>
<line x1="450.2" y1="230" x2="450.2" y2="308.1" class="ma"/>
<line x1="450.2" y1="308.1" x2="450.2" y2="309.4" class="tk"/>
<text x="450.2" y="312.8" class="tl" text-anchor="middle">1600</text>
<line x1="480.6" y1="230" x2="480.6" y2="308.1" class="ma"/>
<line x1="480.6" y1="308.1" x2="480.6" y2="309.4" class="tk"/>
<text x="480.6" y="312.8" class="tl" text-anchor="middle">2000</text>
<line x1="511" y1="230" x2="511" y2="308.1" class="ma"/>
<line x1="511" y1="308.1" x2="511" y2="309.4" class="tk"/>
<text x="511" y="312.8" class="tl" text-anchor="middle">2400</text>
<line x1="541.4" y1="230" x2="541.4" y2="308.1" class="ma"/>
<line x1="541.4" y1="308.1" x2="541.4" y2="309.4" class="tk"/>
<text x="541.4" y="312.8" class="tl" text-anchor="middle">2800</text>
<line x1="428.9" y1="294.8" x2="546" y2="294.8" class="ma"/>
<line x1="427.6" y1="294.8" x2="428.9" y2="294.8" class="tk"/>
<text x="426.8" y="296.8" class="tl" text-anchor="end">1600</text>
<line x1="428.9" y1="274.3" x2="546" y2="274.3" class="ma"/>
<line x1="427.6" y1="274.3" x2="428.9" y2="274.3" class="tk"/>
<text x="426.8" y="276.3" class="tl" text-anchor="end">2000</text>
<line x1="428.9" y1="253.8" x2="546" y2="253.8" class="ma"/>
<line x1="427.6" y1="253.8" x2="428.9" y2="253.8" class="tk"/>
<text x="426.8" y="255.8" class="tl" text-anchor="end">2400</text>
<line x1="428.9" y1="233.3" x2="546" y2="233.3" class="ma"/>
<line x1="427.6" y1="233.3" x2="428.9" y2="233.3" class="tk"/>
<text x="426.8" y="235.3" class="tl" text-anchor="end">2800</text>
<line x1="428.9" y1="308.1" x2="546" y2="230" class="dg"/>
<circle cx="440.94" cy="278.84" r="0.75"/>
<circle cx="443.43" cy="259.4" r="0.75"/>
<circle cx="446.67" cy="259.65" r="0.75"/>
<circle cx="451.15" cy="260.9" r="0.75"/>
<circle cx="469.08" cy="274.61" r="0.75"/>
<circle cx="469.08" cy="278.84" r="0.75"/>
<circle cx="472.81" cy="278.1" r="0.75"/>
<circle cx="476.05" cy="274.61" r="0.75"/>
<circle cx="473.56" cy="259.4" r="0.75"/>
<circle cx="482.77" cy="235.23" r="0.75"/>
<circle cx="484.76" cy="234.48" r="0.75"/>
<circle cx="484.76" cy="273.86" r="0.75"/>
<circle cx="488.49" cy="264.39" r="0.75"/>
<circle cx="489.74" cy="266.38" r="0.75"/>
<circle cx="490.73" cy="266.88" r="0.75"/>
<circle cx="489.74" cy="257.16" r="0.75"/>
<circle cx="493.97" cy="263.39" r="0.75"/>
<circle cx="498.2" cy="235.73" r="0.75"/>
<circle cx="498.95" cy="259.4" r="0.75"/>
<circle cx="500.94" cy="258.16" r="0.75"/>
<circle cx="502.68" cy="234.48" r="0.75"/>
<circle cx="503.43" cy="266.38" r="0.75"/>
<circle cx="505.17" cy="236.98" r="0.75"/>
<circle cx="510.65" cy="258.16" r="0.75"/>
<circle cx="511.89" cy="264.39" r="0.75"/>
<circle cx="512.64" cy="235.98" r="0.75"/>
<circle cx="519.11" cy="258.91" r="0.75"/>
<line x1="441.7" y1="270.9" x2="518.1" y2="250.2" class="rg"/>
<text x="449.2" y="235.25" class="st" text-anchor="middle">n = 27</text>
<text x="449.2" y="240.35" class="st" text-anchor="middle">R^2 = 0.16</text>
<text x="449.2" y="245.45" class="st" text-anchor="middle">RMSE = 319.81</text>
<text x="449.2" y="250.55" class="st" text-anchor="middle">RMSEn = 16.29</text>
<text x="449.2" y="255.65" class="st" text-anchor="middle">dstat = 0.56</text>
<text x="429.3" y="220.5" class="ti">Grain number per square meter</text>
<text x="429.3" y="227.3" class="ti">DSSAT-CERES-Maize [l]</text>
<text x="487.45" y="317.9" class="at" text-anchor="middle">Observed.Grain No per square meter</text>
<text transform="translate(416.9,269.05) rotate(-90)" class="at" text-anchor="middle">Simulated.Grain No per square meter</text>
</g>
</svg>
</body></html>
